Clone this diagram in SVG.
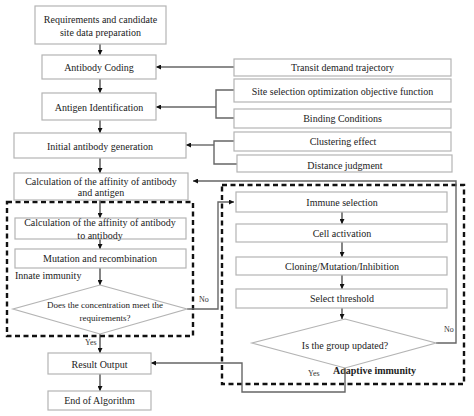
<svg xmlns="http://www.w3.org/2000/svg" width="474" height="416" viewBox="0 0 474 416">
<defs>
<marker id="ah" viewBox="0 0 10 10" refX="10" refY="5" markerWidth="5" markerHeight="5" orient="auto" markerUnits="userSpaceOnUse">
<path d="M0,0 L10,5 L0,10 z" fill="#111"/>
</marker>
</defs>
<style>
.box{fill:#fff;stroke:#b4b4b4;stroke-width:1.2}
.t{font-family:"Liberation Serif","Times New Roman",serif;font-size:10px;fill:#222;text-anchor:middle}
.t9{font-family:"Liberation Serif","Times New Roman",serif;font-size:9px;fill:#222;text-anchor:middle}
.lbl{font-family:"Liberation Serif","Times New Roman",serif;font-size:8px;fill:#333}
.tl{font-family:"Liberation Serif","Times New Roman",serif;font-size:10px;fill:#222}
.bold{font-weight:bold}
.c{fill:none;stroke:#333;stroke-width:1.2}
.g{fill:none;stroke:#666;stroke-width:1.4}
.dash{fill:none;stroke:#111;stroke-width:2.4;stroke-dasharray:5 3.5}
</style>
<rect width="474" height="416" fill="#fff"/>

<g id="innate-region"><rect class="dash" x="7" y="202" width="186" height="134"/><text class="tl" x="15" y="279">Innate immunity</text></g>
<g id="adaptive-region"><rect class="dash" x="222" y="185" width="242" height="199"/><text class="tl bold" x="333" y="374">Adaptive immunity</text></g>

<g id="connectors">
<line class="c" x1="100" y1="44" x2="100" y2="55" marker-end="url(#ah)"/>
<line class="c" x1="100" y1="79" x2="100" y2="93" marker-end="url(#ah)"/>
<line class="c" x1="100" y1="120" x2="100" y2="133" marker-end="url(#ah)"/>
<line class="c" x1="100" y1="158" x2="100" y2="173" marker-end="url(#ah)"/>
<line class="c" x1="100" y1="200" x2="100" y2="218" marker-end="url(#ah)"/>
<line class="c" x1="100" y1="239" x2="100" y2="249" marker-end="url(#ah)"/>
<line class="c" x1="100" y1="268" x2="100" y2="285" marker-end="url(#ah)"/>
<line class="c" x1="100" y1="334" x2="100" y2="353" marker-end="url(#ah)"/>
<line class="c" x1="100" y1="374" x2="100" y2="391" marker-end="url(#ah)"/>
<line class="g" x1="234" y1="67" x2="156" y2="67" marker-end="url(#ah)"/>
<polyline class="g" points="234,90 216,90 216,118 234,118"/>
<line class="g" x1="216" y1="107" x2="156" y2="107" marker-end="url(#ah)"/>
<polyline class="g" points="234,141 214,141 214,164 237,164"/>
<line class="g" x1="214" y1="145" x2="186" y2="145" marker-end="url(#ah)"/>
<polyline class="g" points="436,343 456,343 456,181 193,181" marker-end="url(#ah)"/>
<polyline class="g" points="187,309 218,309 218,202 234,202" marker-end="url(#ah)"/>
<polyline class="g" points="345,368 345,392 242,392 242,363 151,363" marker-end="url(#ah)"/>
<line class="c" x1="342" y1="212" x2="342" y2="224" marker-end="url(#ah)"/>
<line class="c" x1="342" y1="242" x2="342" y2="257" marker-end="url(#ah)"/>
<line class="c" x1="342" y1="275" x2="342" y2="289" marker-end="url(#ah)"/>
<line class="c" x1="342" y1="308" x2="342" y2="319" marker-end="url(#ah)"/>
<text class="lbl" x="85" y="345">Yes</text>
<text class="lbl" x="199" y="302">No</text>
<text class="lbl" x="308" y="376">Yes</text>
<text class="lbl" x="444" y="332">No</text>
</g>

<g id="n1"><rect class="box" x="35" y="6" width="131" height="38"/><text class="t" x="100.5" y="23">Requirements and candidate</text><text class="t" x="100.5" y="36">site data preparation</text></g>
<g id="n2"><rect class="box" x="42" y="55" width="114" height="24"/><text class="t" x="99" y="70.5">Antibody Coding</text></g>
<g id="n3"><rect class="box" x="42" y="93" width="114" height="27"/><text class="t" x="99" y="110.5">Antigen Identification</text></g>
<g id="n4"><rect class="box" x="14" y="133" width="172" height="25"/><text class="t" x="100" y="149.5">Initial antibody generation</text></g>
<g id="n5"><rect class="box" x="14" y="173" width="174" height="27"/><text class="t" x="101" y="184.5">Calculation of the affinity of antibody</text><text class="t" x="101" y="196">and antigen</text></g>
<g id="n6"><rect class="box" x="15" y="218" width="171" height="21"/><text class="t" x="100" y="225.5">Calculation of the affinity of antibody</text><text class="t" x="100" y="238.5">to antibody</text></g>
<g id="n7"><rect class="box" x="15" y="249" width="171" height="19"/><text class="t" x="100" y="261.5">Mutation and recombination</text></g>
<g id="d1"><polygon class="box" points="100,285 187,309 100,334 13,309"/><text class="t9" x="105" y="308">Does the concentration meet the</text><text class="t9" x="105" y="321">requirements?</text></g>
<g id="n8"><rect class="box" x="48" y="353" width="103" height="21"/><text class="t" x="99.5" y="367.5">Result Output</text></g>
<g id="n9"><rect class="box" x="48" y="391" width="103" height="19"/><text class="t" x="99.5" y="403.5">End of Algorithm</text></g>

<g id="r1"><rect class="box" x="234" y="59" width="217" height="17"/><text class="t" x="342.5" y="71">Transit demand trajectory</text></g>
<g id="r2"><rect class="box" x="234" y="79" width="217" height="23"/><text class="t" x="342.5" y="94.5">Site selection optimization objective function</text></g>
<g id="r3"><rect class="box" x="234" y="109" width="217" height="19"/><text class="t" x="342.5" y="121.5">Binding Conditions</text></g>
<g id="r4"><rect class="box" x="234" y="132" width="217" height="19"/><text class="t" x="343" y="144.5">Clustering effect</text></g>
<g id="r5"><rect class="box" x="237" y="155" width="215" height="17"/><text class="t" x="345" y="168.5">Distance judgment</text></g>

<g id="a1"><rect class="box" x="236" y="192" width="211" height="20"/><text class="t" x="342" y="205.5">Immune selection</text></g>
<g id="a2"><rect class="box" x="236" y="224" width="211" height="18"/><text class="t" x="342" y="236.5">Cell activation</text></g>
<g id="a3"><rect class="box" x="236" y="257" width="211" height="18"/><text class="t" x="342" y="270">Cloning/Mutation/Inhibition</text></g>
<g id="a4"><rect class="box" x="236" y="289" width="211" height="19"/><text class="t" x="342" y="301.5">Select threshold</text></g>
<g id="d2"><polygon class="box" points="345,319 436,343 345,368 252,343"/><text class="t" x="345" y="348.5">Is the group updated?</text></g>
</svg>
